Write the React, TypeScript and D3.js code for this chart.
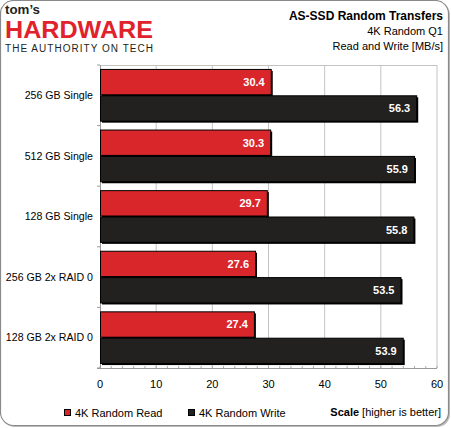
import { useEffect, useRef } from 'react';
import * as d3 from 'd3';

const categories = [
  '256 GB Single',
  '512 GB Single',
  '128 GB Single',
  '256 GB 2x RAID 0',
  '128 GB 2x RAID 0',
];
const readValues = [30.4, 30.3, 29.7, 27.6, 27.4];
const writeValues = [56.3, 55.9, 55.8, 53.5, 53.9];
const seriesNames = ['4K Random Read', '4K Random Write'];
const seriesColors = ['#d9262b', '#222120'];
const xTicks = [0, 10, 20, 30, 40, 50, 60];

const FONT = '"Liberation Sans", Arial, sans-serif';

export default function App() {
  const svgRef = useRef<SVGSVGElement>(null);

  useEffect(() => {
    document.body.style.margin = '0';
    const svg = svgRef.current;
    if (!svg) return;

    const width = 451;
    const height = 428;
    const margin = { top: 65, right: 14, bottom: 60, left: 100 };
    const innerW = width - margin.left - margin.right;
    const innerH = height - margin.top - margin.bottom;

    const svgSel = d3.select(svg);
    svgSel.selectAll('*').remove();
    svgSel.attr('viewBox', `0 0 ${width} ${height}`);

    // frame
    svgSel
      .append('rect')
      .attr('x', 2)
      .attr('y', 2)
      .attr('width', width - 3)
      .attr('height', height - 3)
      .attr('rx', 13)
      .attr('fill', '#bbb');
    svgSel
      .append('rect')
      .attr('x', 0.5)
      .attr('y', 0.5)
      .attr('width', width - 3)
      .attr('height', height - 3)
      .attr('rx', 13)
      .attr('fill', '#fff')
      .attr('stroke', '#8a8a8a')
      .attr('stroke-width', 1.2);

    // logo
    svgSel
      .append('text')
      .attr('x', 5)
      .attr('y', 13.5)
      .attr('font-family', FONT)
      .attr('font-weight', 700)
      .attr('font-size', 12)
      .attr('fill', '#231f20')
      .attr('textLength', 35)
      .attr('lengthAdjust', 'spacingAndGlyphs')
      .text('tom’s');
    svgSel
      .append('text')
      .attr('x', 5)
      .attr('y', 37.5)
      .attr('font-family', FONT)
      .attr('font-weight', 700)
      .attr('font-size', 24)
      .attr('fill', '#e0222b')
      .attr('textLength', 148)
      .attr('lengthAdjust', 'spacingAndGlyphs')
      .text('HARDWARE');
    svgSel
      .append('text')
      .attr('x', 5)
      .attr('y', 52)
      .attr('font-family', FONT)
      .attr('font-size', 10)
      .attr('fill', '#231f20')
      .attr('textLength', 148)
      .attr('lengthAdjust', 'spacing')
      .text('THE AUTHORITY ON TECH');

    // titles
    const titles = [
      { t: 'AS-SSD Random Transfers', y: 20, size: 12, weight: 700 },
      { t: '4K Random Q1', y: 35, size: 11, weight: 400 },
      { t: 'Read and Write [MB/s]', y: 50, size: 11, weight: 400 },
    ];
    titles.forEach((d) => {
      svgSel
        .append('text')
        .attr('x', 443)
        .attr('y', d.y)
        .attr('text-anchor', 'end')
        .attr('font-family', FONT)
        .attr('font-size', d.size)
        .attr('font-weight', d.weight)
        .attr('fill', '#000')
        .text(d.t);
    });

    const g = svgSel
      .append('g')
      .attr('transform', `translate(${margin.left},${margin.top})`);

    const x = d3.scaleLinear().domain([0, 60]).range([0, innerW]);
    const y = d3
      .scaleBand<string>()
      .domain(categories)
      .range([0, innerH])
      .paddingInner(0.13)
      .paddingOuter(0.065);

    // grid + frame
    g.selectAll('.grid-v')
      .data(xTicks.slice(1))
      .join('line')
      .attr('x1', (d) => x(d))
      .attr('x2', (d) => x(d))
      .attr('y1', 0)
      .attr('y2', innerH)
      .attr('stroke', '#c4c4c4');
    g.append('line')
      .attr('x1', 0)
      .attr('x2', innerW)
      .attr('y1', 0.5)
      .attr('y2', 0.5)
      .attr('stroke', '#c4c4c4');

    // bottom axis with minor ticks
    const minor = d3.range(0, 61, 2);
    g.selectAll('.minor')
      .data(minor)
      .join('line')
      .attr('x1', (d) => x(d))
      .attr('x2', (d) => x(d))
      .attr('y1', innerH - 2)
      .attr('y2', innerH)
      .attr('stroke', '#aaa');
    g.append('line')
      .attr('x1', -3)
      .attr('x2', innerW)
      .attr('y1', innerH + 0.5)
      .attr('y2', innerH + 0.5)
      .attr('stroke', '#9a9a9a');
    g.selectAll('.xt')
      .data(xTicks)
      .join('text')
      .attr('x', (d) => x(d))
      .attr('y', innerH + 20)
      .attr('text-anchor', 'middle')
      .attr('font-family', FONT)
      .attr('font-size', 11)
      .attr('fill', '#000')
      .text((d) => d);

    // left axis
    g.append('line')
      .attr('x1', 0.5)
      .attr('x2', 0.5)
      .attr('y1', 0)
      .attr('y2', innerH)
      .attr('stroke', '#9a9a9a');
    const step = innerH / categories.length;
    g.selectAll('.ytick')
      .data(d3.range(categories.length + 1))
      .join('line')
      .attr('x1', -3)
      .attr('x2', 0)
      .attr('y1', (i) => i * step)
      .attr('y2', (i) => i * step)
      .attr('stroke', '#9a9a9a');
    g.selectAll('.ylab')
      .data(categories)
      .join('text')
      .attr('x', -7)
      .attr('y', (_, i) => (i + 0.5) * step)
      .attr('dy', '0.35em')
      .attr('text-anchor', 'end')
      .attr('font-family', FONT)
      .attr('font-size', 10.6)
      .attr('fill', '#000')
      .text((d) => d);

    // bars
    const inner = d3
      .scaleBand<number>()
      .domain([0, 1])
      .range([0, y.bandwidth()])
      .padding(0);

    const rows = categories.map((c, i) => ({
      c,
      vals: [readValues[i], writeValues[i]],
    }));

    rows.forEach((row) => {
      const by = y(row.c) ?? 0;
      row.vals.forEach((v, s) => {
        const top = by + (inner(s) ?? 0);
        const h = inner.bandwidth() - 1;
        const w = x(v);
        g.append('rect')
          .attr('x', 2)
          .attr('y', top + 2)
          .attr('width', w)
          .attr('height', h)
          .attr('fill', '#000');
        g.append('rect')
          .attr('x', 0.5)
          .attr('y', top + 0.5)
          .attr('width', w)
          .attr('height', h)
          .attr('fill', seriesColors[s])
          .attr('stroke', '#000')
          .attr('stroke-width', 1);
        g.append('text')
          .attr('x', w - 6)
          .attr('y', top + h / 2 + 0.5)
          .attr('dy', '0.35em')
          .attr('text-anchor', 'end')
          .attr('font-family', FONT)
          .attr('font-size', 11)
          .attr('font-weight', 700)
          .attr('fill', '#fff')
          .text(v.toFixed(1));
      });
    });

    // legend
    const legendX = [64, 188];
    seriesNames.forEach((name, s) => {
      svgSel
        .append('rect')
        .attr('x', legendX[s] + 0.5)
        .attr('y', 409.5)
        .attr('width', 6)
        .attr('height', 6)
        .attr('fill', seriesColors[s])
        .attr('stroke', '#000');
      svgSel
        .append('text')
        .attr('x', legendX[s] + 11)
        .attr('y', 417)
        .attr('font-family', FONT)
        .attr('font-size', 11)
        .attr('fill', '#000')
        .text(name);
    });
    const scale = svgSel
      .append('text')
      .attr('x', 441)
      .attr('y', 416)
      .attr('text-anchor', 'end')
      .attr('font-family', FONT)
      .attr('font-size', 11)
      .attr('fill', '#000');
    scale.append('tspan').attr('font-weight', 700).text('Scale');
    scale.append('tspan').text(' [higher is better]');
  }, []);

  return (
    <div style={{ width: 451, height: 428 }}>
      <svg ref={svgRef} width={451} height={428} style={{ display: 'block' }} />
    </div>
  );
}
